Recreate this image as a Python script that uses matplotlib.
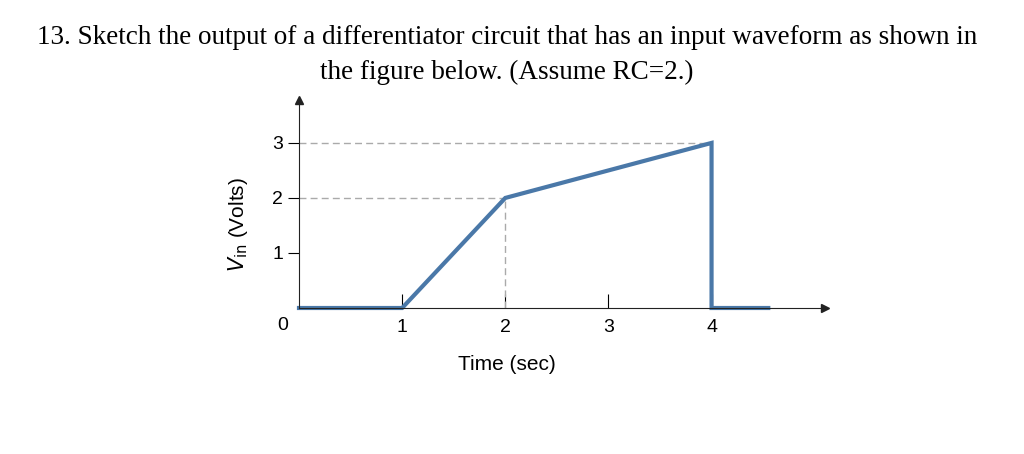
import matplotlib
matplotlib.use("Agg")
import matplotlib.pyplot as plt

t = [0, 1, 2, 4, 4, 4.55]
v = [0, 0, 2, 3, 0, 0]
xticks = [1, 2, 3, 4]
yticks = [1, 2, 3]

fig = plt.figure(figsize=(10.24, 4.54), dpi=100)
fig.text(507/1024, 1 - 38/454, "13. Sketch the output of a differentiator circuit that has an input waveform as shown in",
         ha="center", va="center", family="Liberation Serif", fontsize=19.5)
fig.text(507/1024, 1 - 72/454, "the figure below. (Assume RC=2.)",
         ha="center", va="center", family="Liberation Serif", fontsize=19.5)

ax = fig.add_axes([299/1024, 146/454, (825-299)/1024, 208/454])
ax.set_xlim(0, 5.1)
ax.set_ylim(0, 3.78)
for s in ["top", "right"]:
    ax.spines[s].set_visible(False)
for s in ["left", "bottom"]:
    ax.spines[s].set_color("#222222")
ax.plot(1, 0, ">", color="#222222", transform=ax.get_yaxis_transform(), clip_on=False, ms=6)
ax.plot(0, 1, "^", color="#222222", transform=ax.get_xaxis_transform(), clip_on=False, ms=6)

dash = dict(color="#aaaaaa", lw=1, ls=(0, (5, 3)))
ax.plot([0, 4], [3, 3], **dash)
ax.plot([0, 2], [2, 2], **dash)
ax.plot([2, 2], [0, 2], **dash)

ax.plot(t, v, color="#4a78a8", lw=3, solid_joinstyle="miter", clip_on=False)

ax.set_xticks(xticks)
ax.set_yticks(yticks)
ax.tick_params(axis="x", direction="in", length=10, pad=8, labelsize=14)
ax.tick_params(axis="y", direction="out", length=8, labelsize=14)
for lab in ax.get_xticklabels() + ax.get_yticklabels():
    lab.set_family("Liberation Sans")
ax.text(-16/103, -0.31, "0", transform=ax.transData, ha="center", va="center",
        family="Liberation Sans", fontsize=14)
fig.text(507/1024, 1 - 365/454, "Time (sec)", ha="center", va="center",
         family="Liberation Sans", fontsize=15)
fig.text(238/1024, 1 - 225/454, r"$V_{\mathrm{in}}$ (Volts)", ha="center", va="center",
         rotation=90, family="Liberation Sans", fontsize=15)
fig.savefig("out.png", dpi=100)
